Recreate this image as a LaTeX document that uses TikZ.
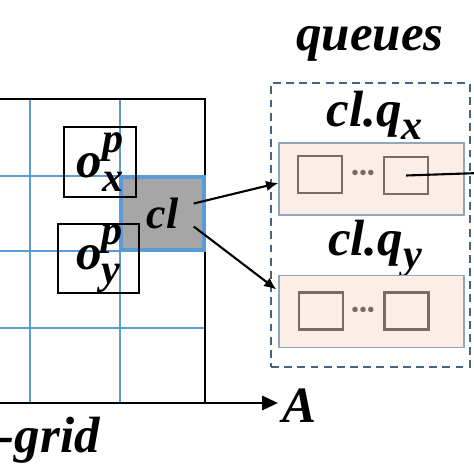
\documentclass[tikz,border=0pt]{standalone}
\usepackage{fontspec}
\setmainfont{Liberation Serif}
\usetikzlibrary{
  positioning,
  calc,
  arrows.meta}

\definecolor{gridblue}{HTML}{5B9BD5}
\definecolor{cellgray}{HTML}{A6A6A6}
\definecolor{dashblue}{HTML}{46637F}
\definecolor{queuefill}{HTML}{FCEEE6}
\definecolor{queuedraw}{HTML}{8FA6BC}
\definecolor{slotdraw}{HTML}{776D65}

\newcommand{\bigfont}{\fontsize{29}{32}\selectfont\bfseries\itshape}
\newcommand{\idxfont}{\fontsize{24}{26}\selectfont}
\newcommand{\objlabel}[3]{#1\rlap{\raisebox{0.5em}{\idxfont #2}}\raisebox{-0.27em}{\idxfont #3}}

\tikzset{
  bigtext/.style={font=\bigfont, inner sep=0pt},
  gridline/.style={gridblue, line width=1.1pt},
  frameline/.style={black, line width=1.3pt},
  objbox/.style={
    rectangle,
    draw=black,
    line width=1.1pt,
    inner sep=0pt,
    font=\bigfont
  },
  queuebox/.style={
    rectangle,
    fill=queuefill,
    draw=queuedraw,
    line width=0.7pt,
    minimum width=3.7cm,
    minimum height=1.44cm
  },
  slot/.style={
    rectangle,
    draw=slotdraw,
    line width=1.2pt,
    minimum width=0.88cm,
    minimum height=0.74cm
  },
  conn/.style={
    black,
    line width=1.2pt,
    -{Latex[length=7pt,width=6pt]}
  }
}

\begin{document}
\begin{tikzpicture}[x=0.02cm, y=-0.02cm]
  \clip (0,0) rectangle (474,474);

  % Grid
  \draw[gridline] (30,99) -- (30,403);
  \draw[gridline] (120,99) -- (120,403);
  \draw[gridline] (-60,176) -- (205,176);
  \draw[gridline] (-60,251) -- (205,251);
  \draw[gridline] (-60,328) -- (205,328);

  \draw[frameline] (-60,99) -- (205,99) -- (205,403);

  \node[
    rectangle,
    fill=cellgray,
    draw=gridblue,
    line width=2pt,
    minimum width=1.66cm,
    minimum height=1.46cm,
    font=\fontsize{25}{28}\selectfont\bfseries\itshape
  ] (cl) at (162.5,213.5) {cl};

  \node[
    objbox,
    minimum width=1.44cm,
    minimum height=1.4cm
  ] (ox) at (100,162) {\objlabel{o}{p}{x}};

  \node[
    objbox,
    minimum width=1.62cm,
    minimum height=1.38cm
  ] (oy) at (98.5,258.5) {\objlabel{o}{p}{y}};

  % Axis
  \coordinate (axstart) at (-10,403);
  \coordinate (axend) at (278,403);
  \draw[
    black,
    line width=1.6pt,
    -{Triangle[length=9pt,width=8pt]}
  ] (axstart) -- (axend);

  \node[bigtext, anchor=base] (axname) at (299,422) {A};
  \node[bigtext, anchor=base east] (gridname) at (100,452) {-grid};

  % Queues
  \node[bigtext, anchor=base] (qtitle) at (370,50) {queues};

  \node[
    rectangle,
    draw=dashblue,
    line width=1pt,
    dash pattern=on 4.5pt off 3pt,
    minimum width=3.98cm,
    minimum height=5.68cm
  ] (qframe) at (370.5,225) {};

  \node[bigtext, anchor=base] (qxname) at (375,126)
    {cl.q\raisebox{-0.27em}{\idxfont x}};
  \node[queuebox] (qx) at (371.5,179) {};
  \node[slot] (qxa) at (320,174.5) {};
  \node[slot] (qxb) at (406,175.5) {};
  \node[text=slotdraw, inner sep=0pt] (qxdots) at (363,175)
    {\fontsize{13}{13}\selectfont\textbullet\textbullet\textbullet};

  \node[bigtext, anchor=base] (qyname) at (375,255)
    {cl.q\raisebox{-0.27em}{\idxfont y}};
  \node[queuebox] (qy) at (371.5,311.5) {};
  \node[slot] (qya) at (321,311) {};
  \node[slot] (qyb) at (406.5,311) {};
  \node[text=slotdraw, inner sep=0pt] (qydots) at (363,312)
    {\fontsize{13}{13}\selectfont\textbullet\textbullet\textbullet};

  % Connectors
  \draw[conn] ([shift={(-12,-10)}]cl.east) -- ([shift={(0,4)}]qx.west);
  \draw[conn] ([shift={(-12,13)}]cl.east) -- ([shift={(-2,-22)}]qy.west);

  \coordinate (qxout) at (480,173);
  \draw[black, line width=1.2pt] (qxb.center) -- (qxout);
\end{tikzpicture}
\end{document}
